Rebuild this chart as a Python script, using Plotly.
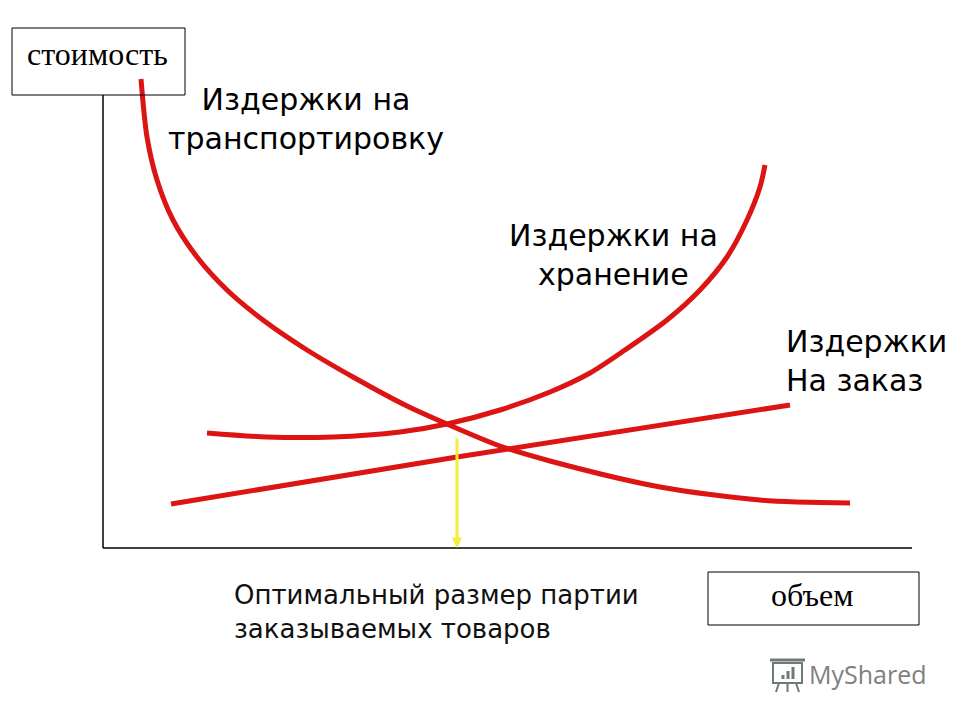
import plotly.graph_objects as go

# volume (x) and cost (y), arbitrary units
transport_x = [3.8, 4.4, 5.4, 7.0, 9.4, 12.4, 16.0, 20.4, 25.0, 30.4, 34.4, 39.7, 44.7, 55.7, 65.7, 74.7]
transport_y = [46.9, 41.1, 36.8, 32.8, 29.1, 25.8, 22.8, 19.8, 17.1, 14.2, 12.4, 10.2, 8.7, 6.1, 4.8, 4.5]

storage_x = [10.4, 16.4, 23.0, 29.7, 34.4, 39.7, 44.7, 48.7, 52.2, 56.4, 59.7, 62.4, 64.4, 65.7, 66.2]
storage_y = [11.5, 11.1, 11.1, 11.6, 12.4, 13.8, 15.6, 17.5, 19.8, 22.8, 25.8, 29.1, 32.8, 36.1, 38.3]

order_x = [6.8, 35.4, 68.7]
order_y = [4.4, 9.1, 14.3]

optimum_x = 35.4
optimum_y = 11.1

RED = "#dc1414"
SANS = "DejaVu Sans"
SERIF = "Liberation Serif"
GREY = "#6f7a78"

fig = go.Figure()

for xs, ys in [(transport_x, transport_y), (storage_x, storage_y), (order_x, order_y)]:
    fig.add_trace(go.Scatter(x=xs, y=ys, mode="lines",
                             line=dict(color=RED, width=5, shape="spline", smoothing=0.8),
                             hoverinfo="skip", showlegend=False))

# optimum order size marker (yellow arrow down to the x axis)
fig.add_annotation(x=optimum_x, y=0, ax=optimum_x, ay=optimum_y, xref="x", yref="y",
                   axref="x", ayref="y", showarrow=True, arrowhead=2, arrowsize=0.7,
                   arrowwidth=3, arrowcolor="#f2ee3a", text="")

# axes drawn as plain lines
fig.add_shape(type="line", x0=0, y0=0, x1=0, y1=45.3, line=dict(color="black", width=1.5))
fig.add_shape(type="line", x0=0, y0=0, x1=80.9, y1=0, line=dict(color="black", width=1.5))

# axis title boxes
fig.add_shape(type="rect", x0=-9.1, y0=45.3, x1=8.2, y1=52.0, line=dict(color="black", width=1))
fig.add_shape(type="rect", x0=60.5, y0=-2.4, x1=81.6, y1=-7.7, line=dict(color="black", width=1))
fig.add_annotation(x=-0.6, y=49.4, text="стоимость", showarrow=False,
                   font=dict(family=SERIF, size=32, color="black"))
fig.add_annotation(x=70.9, y=-4.7, text="объем", showarrow=False,
                   font=dict(family=SERIF, size=32, color="black"))

labels = [
    (20.3, 42.9, "Издержки на<br>транспортировку", "center"),
    (51.0, 29.3, "Издержки на<br>хранение", "center"),
    (68.1, 18.7, "Издержки<br>На заказ", "left"),
]
for x, y, txt, al in labels:
    fig.add_annotation(x=x, y=y, text=txt, showarrow=False, align=al,
                       xanchor="center" if al == "center" else "left",
                       font=dict(family=SANS, size=30, color="black"))

fig.add_annotation(x=12.9, y=-6.4, text="Оптимальный размер партии<br>заказываемых товаров",
                   showarrow=False, align="left", xanchor="left",
                   font=dict(family=SANS, size=26, color="#111111"))

# watermark: little presentation board icon + text
fig.add_shape(type="rect", x0=67.0, y0=-11.5, x1=69.9, y1=-13.5, line=dict(color=GREY, width=2))
fig.add_shape(type="line", x0=66.7, y0=-11.2, x1=70.2, y1=-11.2, line=dict(color=GREY, width=3))
for bx, bh in [(68.0, 0.4), (68.5, 0.8), (69.0, 1.2)]:
    fig.add_shape(type="line", x0=bx, y0=-13.1, x1=bx, y1=-13.1 + bh, line=dict(color=GREY, width=3))
for lx0, lx1 in [(67.6, 67.3), (68.45, 68.45), (69.3, 69.6)]:
    fig.add_shape(type="line", x0=lx0, y0=-13.5, x1=lx1, y1=-14.4, line=dict(color=GREY, width=2))
fig.add_annotation(x=70.4, y=-12.6, text="MyShared", showarrow=False, xanchor="left",
                   font=dict(family="Open Sans", size=25, color="#808080"))

# page body adds an 8px offset, ranges compensate for it
fig.update_layout(
    width=960, height=720,
    margin=dict(l=0, r=0, t=0, b=0),
    paper_bgcolor="white", plot_bgcolor="white",
    xaxis=dict(range=[-9.5, 86.5], visible=False, fixedrange=True),
    yaxis=dict(range=[-18.0, 54.0], visible=False, fixedrange=True),
)

fig.write_html("out.html")
